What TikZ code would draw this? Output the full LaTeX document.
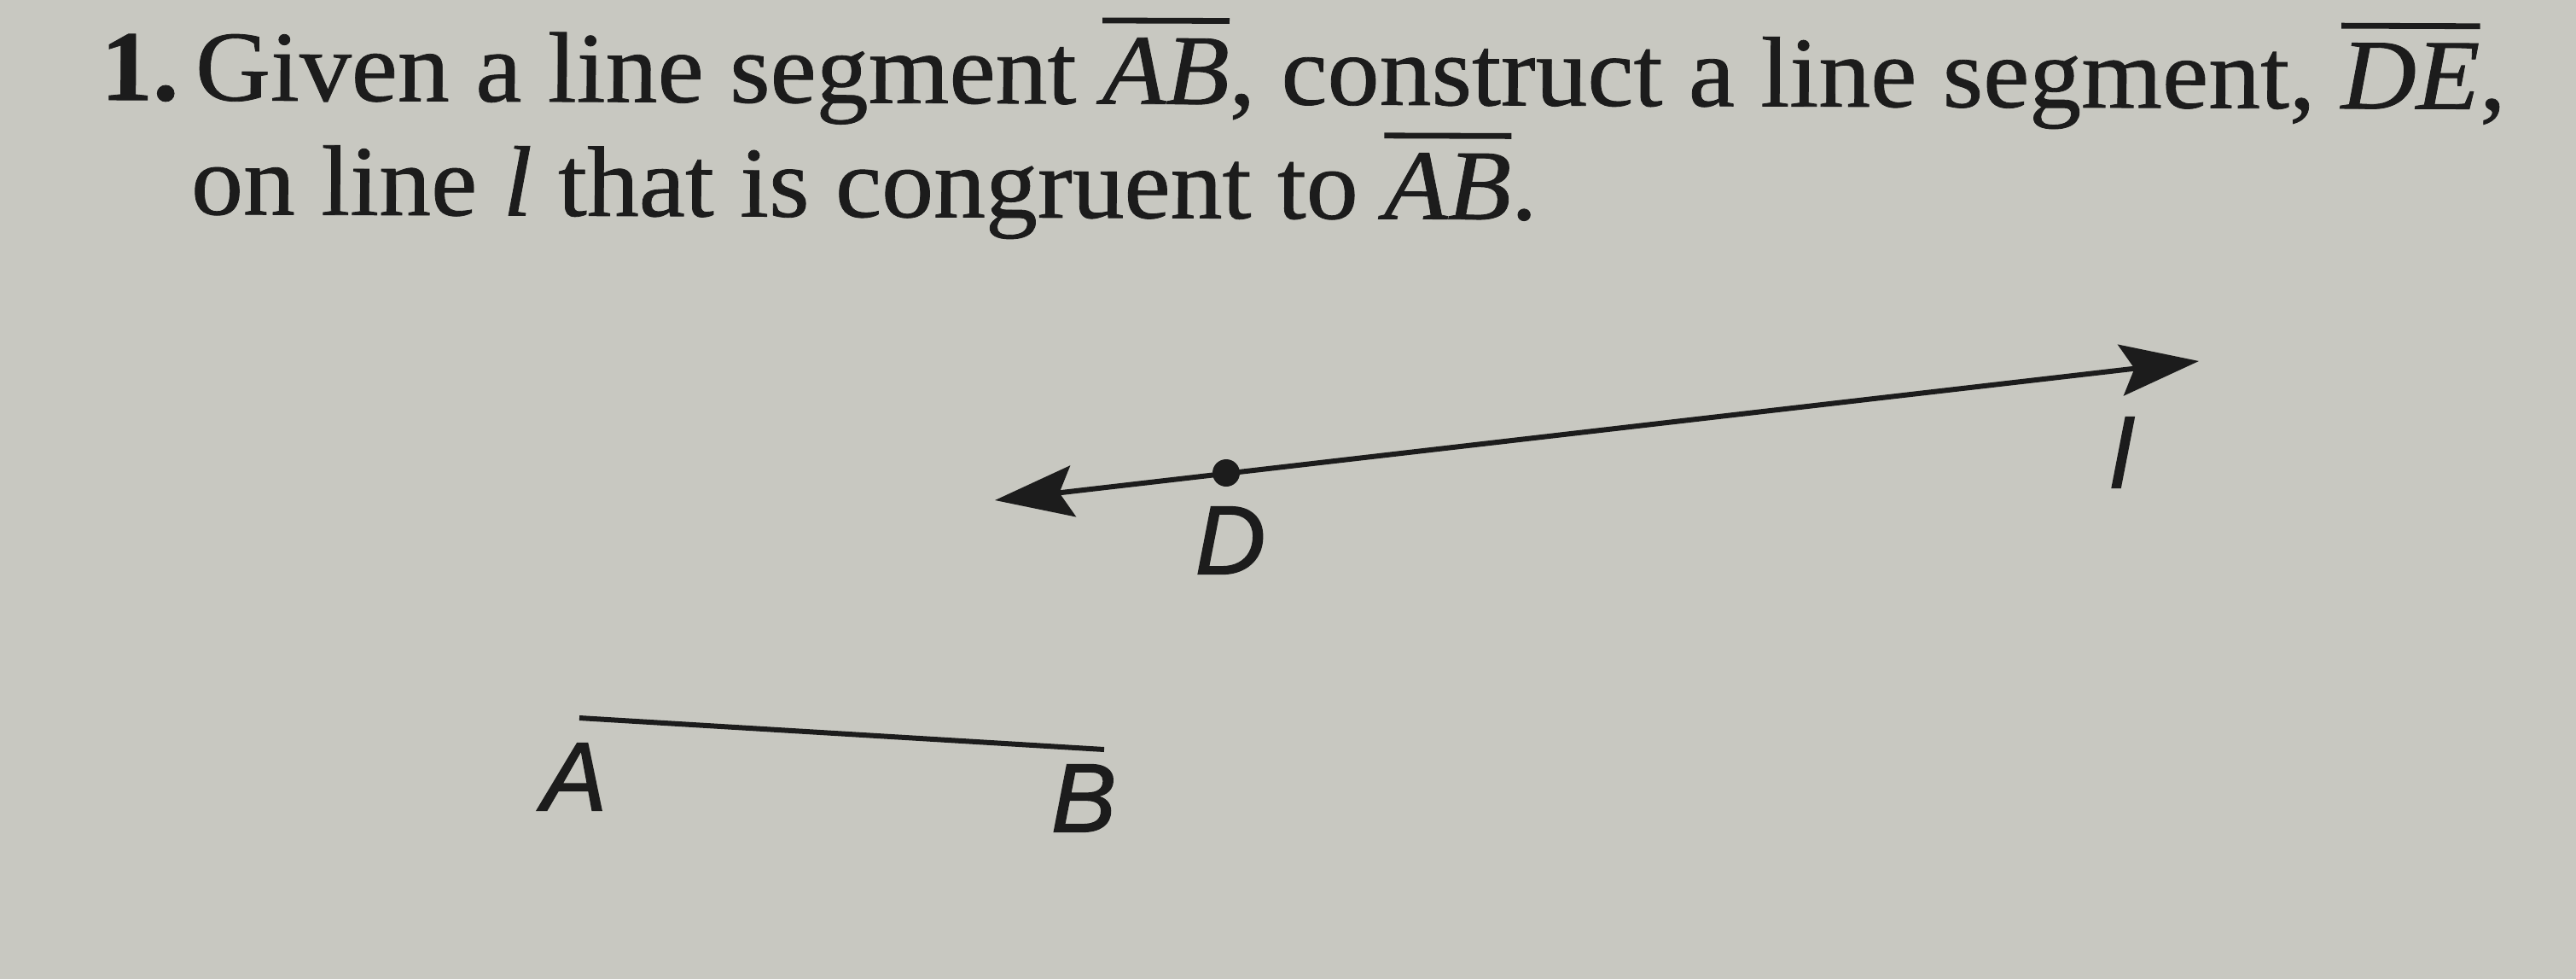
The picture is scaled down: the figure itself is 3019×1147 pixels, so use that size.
\documentclass[tikz,border=0pt]{standalone}
\usepackage{fontspec}
\setmainfont{Liberation Serif}[FakeStretch=1.04,FakeBold=0.7]
\newfontfamily\labelfont{Liberation Sans}[FakeBold=1.3]
\usetikzlibrary{arrows.meta}
\definecolor{paper}{RGB}{200,200,193}
\definecolor{ink}{RGB}{28,28,28}
\newcommand\segbar[1]{\leavevmode\vbox{\hrule height 1.7pt\kern 4.2pt\hbox{\itshape #1\/}}}

\begin{document}
\begin{tikzpicture}[x=0.25pt,y=-0.25pt,ink,line width=1.5pt,
    txt/.style={font=\fontsize{29.3}{35}\selectfont,inner sep=0pt,anchor=base west,rotate=-0.22},
    lbl/.style={font=\labelfont\itshape\fontsize{28.6}{34}\selectfont,inner sep=0pt},
    tip/.style={{Stealth[length=23pt,width=15pt,inset=4pt]}-{Stealth[length=23pt,width=15pt,inset=4pt]}}]
    \fill[paper] (0,0) rectangle (3019,1147);
    % statement
    \node[txt] (line1) at (115,117) {\textbf{1.}\,Given a line segment \segbar{AB}, construct a line segment, \segbar{DE},};
    \node[txt] (line2) at (221,251) {on line \textit{l} that is congruent to \segbar{AB}.};
    % line l through D
    \coordinate (L) at (1166,586);
    \coordinate (R) at (2577,423);
    \coordinate (D) at (1437,554);
    \draw[tip] (L) -- (R);
    \fill (D) circle (4pt);
    \node[lbl] (labD) at (1442,633) {D};
    \node[lbl] (labl) at (2486,530) {l};
    % segment AB
    \coordinate (A) at (679,841);
    \coordinate (B) at (1294,878);
    \draw (A) -- (B);
    \node[lbl] (labA) at (673,910) {A};
    \node[lbl] (labB) at (1270,935) {B};
\end{tikzpicture}
\end{document}
